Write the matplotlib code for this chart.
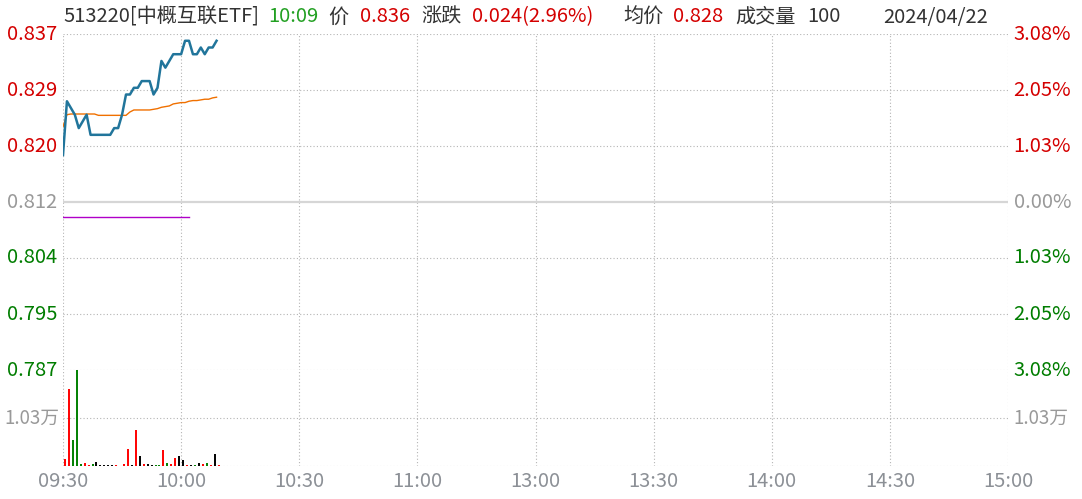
import numpy as np
import matplotlib
matplotlib.use("Agg")
import matplotlib.pyplot as plt

plt.rcParams['font.family'] = ['Noto Sans CJK SC', 'DejaVu Sans']

prev_close = 0.812
pct_step = 0.0308 / 3

# one value per minute from 09:30 to 10:09
price = [0.819, 0.827, 0.826, 0.825, 0.823, 0.824, 0.825, 0.822, 0.822, 0.822,
         0.822, 0.822, 0.822, 0.823, 0.823, 0.825, 0.828, 0.828, 0.829, 0.829,
         0.830, 0.830, 0.830, 0.828, 0.829, 0.833, 0.832, 0.833, 0.834, 0.834,
         0.834, 0.836, 0.836, 0.834, 0.834, 0.835, 0.834, 0.835, 0.835, 0.836]
avg_price = [0.8232, 0.8250, 0.8251, 0.8251, 0.8251, 0.8251, 0.8251, 0.8251, 0.8251, 0.8249,
             0.8249, 0.8249, 0.8249, 0.8249, 0.8249, 0.8249, 0.8249, 0.8254, 0.8257, 0.8257,
             0.8257, 0.8257, 0.8257, 0.8258, 0.8259, 0.8261, 0.8262, 0.8263, 0.8266, 0.8267,
             0.8268, 0.8268, 0.8270, 0.8271, 0.8271, 0.8272, 0.8273, 0.8273, 0.8275, 0.8276]
# volume in units of 万
volume = [0.147, 1.648, 0.567, 2.06, 0.037, 0.059, 0.015, 0.037, 0.081, 0.015,
          0.015, 0.015, 0.015, 0.015, 0.008, 0.037, 0.368, 0.015, 0.765, 0.213,
          0.037, 0.037, 0.015, 0.015, 0.015, 0.346, 0.059, 0.037, 0.169, 0.213,
          0.132, 0.015, 0.015, 0.015, 0.059, 0.037, 0.059, 0.015, 0.257, 0.015]
vol_dir = ['r', 'r', 'g', 'g', 'g', 'r', 'r', 'g', 'k', 'k',
           'k', 'k', 'k', 'r', 'k', 'r', 'r', 'k', 'r', 'k',
           'r', 'k', 'k', 'g', 'g', 'r', 'g', 'r', 'r', 'k',
           'k', 'r', 'k', 'g', 'k', 'r', 'g', 'r', 'k', 'r']
ref_line = [0.8098] * 33

time_labels = ['09:30', '10:00', '10:30', '11:00', '13:00', '13:30', '14:00', '14:30', '15:00']
header = [('513220[中概互联ETF]', '#333333'), ('10:09', '#22a022'), ('价', '#333333'),
          ('0.836', '#d40000'), ('涨跌', '#333333'), ('0.024(2.96%)', '#d40000'),
          ('均价', '#333333'), ('0.828', '#d40000'), ('成交量', '#333333'),
          ('100', '#333333'), ('2024/04/22', '#333333')]
header_x = [63, 268, 328, 360, 421, 472, 623, 673, 735, 807, 883]

RED = '#d40000'
GREEN = '#007d00'
GRAY = '#999999'
dir_colors = {'r': '#ff0000', 'g': '#008000', 'k': '#000000'}
FS = 14.5

W, H = 1082, 499
fig = plt.figure(figsize=(W / 100, H / 100), dpi=100)
left = 63 / W
width = (1008 - 63) / W
ax = fig.add_axes([left, 1 - 370 / H, width, 336 / H])
axv = fig.add_axes([left, 1 - 466 / H, width, 96 / H])

grid_kw = dict(color='#b4b4b4', linewidth=0.8, linestyle=(0, (1, 2)))
lo = prev_close * (1 - 3 * pct_step)
hi = prev_close * (1 + 3 * pct_step)

for a in (ax, axv):
    a.set_xlim(0, 240)
    for s in a.spines.values():
        s.set_visible(False)
    a.set_xticks([])
    a.set_yticks([])
    for k in range(9):
        a.axvline(k * 30, **grid_kw, zorder=0)

ax.set_ylim(lo, hi)
for k in range(-3, 4):
    v = prev_close * (1 + k * pct_step)
    if k == 0:
        ax.axhline(v, color='#d6d6d6', linewidth=1.6, zorder=0)
        c = GRAY
    else:
        ax.axhline(v, **grid_kw, zorder=0)
        c = RED if k > 0 else GREEN
    ax.text(-0.006, v, '%.3f' % v, transform=ax.get_yaxis_transform(), ha='right', va='center',
            color=c, fontsize=FS)
    ax.text(1.006, v, '%.2f%%' % (abs(k) * 3.08 / 3 + 0.0001), transform=ax.get_yaxis_transform(),
            ha='left', va='center', color=c, fontsize=FS)

t = np.arange(len(price))
ax.plot(t, price, color='#21759b', linewidth=1.8, zorder=3)
ax.plot(t, avg_price, color='#f07000', linewidth=1.0, zorder=2)
ax.plot(np.arange(len(ref_line)), ref_line, color='#b000c8', linewidth=1.0, zorder=2)

axv.set_ylim(0, 2.06)
axv.axhline(1.03, **grid_kw, zorder=0)
axv.axhline(0, **grid_kw, zorder=0)
axv.text(-0.004, 1.03, '1.03万', transform=axv.get_yaxis_transform(), ha='right', va='center',
         color=GRAY, fontsize=13.5)
axv.text(1.006, 1.03, '1.03万', transform=axv.get_yaxis_transform(), ha='left', va='center',
         color=GRAY, fontsize=13.5)
axv.vlines(t + 0.5, 0, volume, colors=[dir_colors[d] for d in vol_dir], linewidth=1.4)

for k, lab in enumerate(time_labels):
    axv.text(k * 30, -0.16, lab, transform=axv.get_xaxis_transform(), ha='center', va='center',
             color='#8c9096', fontsize=FS)

for (s, c), x in zip(header, header_x):
    fig.text(x / W, 1 - 17 / H, s, color=c, fontsize=FS, ha='left', va='center')

fig.savefig('out.png', dpi=100)
